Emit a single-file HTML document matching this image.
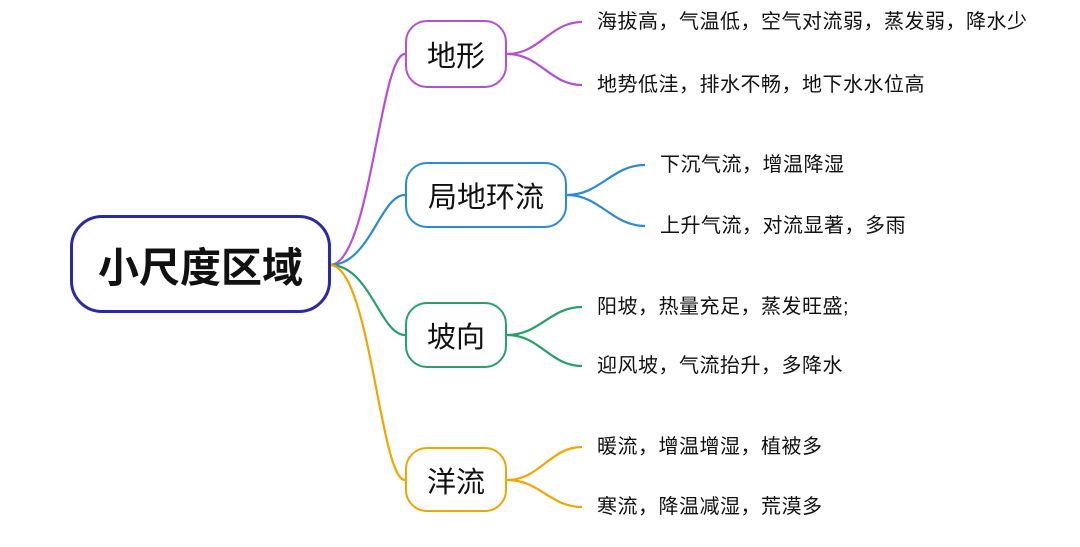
<!DOCTYPE html>
<html><head><meta charset="utf-8"><style>
body{margin:0;width:1080px;height:547px;background:#fff;position:relative;overflow:hidden;font-family:"Liberation Sans","Noto Sans CJK SC",sans-serif;color:#111}
.b{position:absolute;box-sizing:border-box;background:#fff;display:flex;align-items:center;justify-content:center;border-radius:22px;border:2.5px solid;font-size:29px}
.t{position:absolute;font-size:20px;letter-spacing:0.5px;line-height:22px;white-space:nowrap}
svg{position:absolute;left:0;top:0}
</style></head><body>
<svg width="1080" height="547" fill="none" stroke-width="2.2">
<path d="M330 265 C370 265,380 54,405 54" stroke="#b44fd8"/>
<path d="M330 265 C370 265,380 195,405 195" stroke="#2b8ad8"/>
<path d="M330 265 C370 265,380 335,405 335" stroke="#27a06a"/>
<path d="M330 265 C370 265,380 480,405 480" stroke="#f0a500"/>
<path d="M507 54 C540 54,550 22,582 22 M507 54 C540 54,550 85,582 85" stroke="#b44fd8"/>
<path d="M567 195 C600 195,612 165,645 165 M567 195 C600 195,612 226,645 226" stroke="#2b8ad8"/>
<path d="M507 335 C540 335,550 307,582 307 M507 335 C540 335,550 366,582 366" stroke="#27a06a"/>
<path d="M507 480 C540 480,550 447,582 447 M507 480 C540 480,550 507,582 507" stroke="#f0a500"/>
</svg>
<div class="b" style="left:70px;top:215px;width:261px;height:98px;border:3px solid #2a2aa8;border-radius:32px;font-size:41px;font-weight:bold">小尺度区域</div>
<div class="b" style="left:405px;top:20px;width:102px;height:68px;border-color:#b44fd8">地形</div>
<div class="b" style="left:405px;top:162px;width:162px;height:66px;border-color:#2b8ad8">局地环流</div>
<div class="b" style="left:405px;top:302px;width:102px;height:66px;border-color:#27a06a">坡向</div>
<div class="b" style="left:405px;top:447px;width:102px;height:65px;border-color:#f0a500">洋流</div>
<div class="t" style="left:597px;top:11px">海拔高，气温低，空气对流弱，蒸发弱，降水少</div>
<div class="t" style="left:597px;top:74px">地势低洼，排水不畅，地下水水位高</div>
<div class="t" style="left:660px;top:154px">下沉气流，增温降湿</div>
<div class="t" style="left:660px;top:215px">上升气流，对流显著，多雨</div>
<div class="t" style="left:597px;top:296px">阳坡，热量充足，蒸发旺盛;</div>
<div class="t" style="left:597px;top:355px">迎风坡，气流抬升，多降水</div>
<div class="t" style="left:597px;top:436px">暖流，增温增湿，植被多</div>
<div class="t" style="left:597px;top:496px">寒流，降温减湿，荒漠多</div>
</body></html>
